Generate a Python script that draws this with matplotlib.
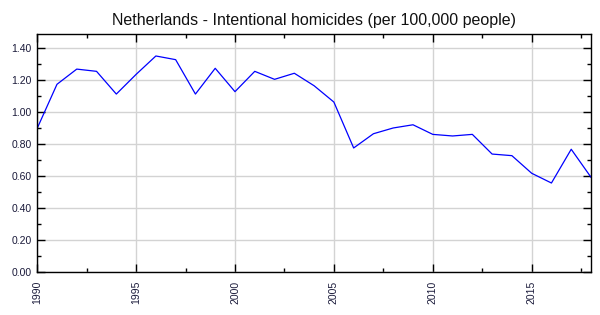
import numpy as np
import matplotlib
matplotlib.use('Agg')
import matplotlib.pyplot as plt
from matplotlib.ticker import MultipleLocator, FormatStrFormatter

matplotlib.rcParams['font.family'] = ['Liberation Sans', 'DejaVu Sans']

# data
years = list(range(1990, 2019))
homicides = [0.90, 1.175, 1.27, 1.256, 1.114, 1.237, 1.352, 1.329, 1.114, 1.275,
             1.129, 1.256, 1.206, 1.244, 1.166, 1.064, 0.777, 0.866, 0.902, 0.922,
             0.862, 0.852, 0.862, 0.739, 0.729, 0.619, 0.558, 0.769, 0.594]
title = 'Netherlands - Intentional homicides (per 100,000 people)'

fig = plt.figure(figsize=(6, 3.15), dpi=100)
ax = fig.add_axes([0.062, 0.1356, 0.923, 0.7555])

ax.plot(years, homicides, color='#0000ff', linewidth=0.9)

ax.set_xlim(1990, 2018)
ax.set_ylim(0, 1.4875)
ax.xaxis.set_major_locator(MultipleLocator(5))
ax.xaxis.set_minor_locator(MultipleLocator(2.5))
ax.yaxis.set_major_locator(MultipleLocator(0.2))
ax.yaxis.set_minor_locator(MultipleLocator(0.1))
ax.yaxis.set_major_formatter(FormatStrFormatter('%.2f'))

ax.grid(True, which='major', color='#d3d3d3', linewidth=1)
ax.set_axisbelow(True)

ax.tick_params(which='both', direction='in', top=True, right=True,
               colors='black', labelcolor='#1a1a3a', labelsize=7.5, width=1)
ax.tick_params(which='major', length=6)
ax.tick_params(which='minor', length=3)
ax.tick_params(axis='x', labelrotation=90, pad=6)
ax.tick_params(axis='y', pad=4)
for sp in ax.spines.values():
    sp.set_linewidth(1)

ax.set_title(title, fontsize=11.5, color='#111111', pad=7)

fig.savefig('out.png', dpi=100)
